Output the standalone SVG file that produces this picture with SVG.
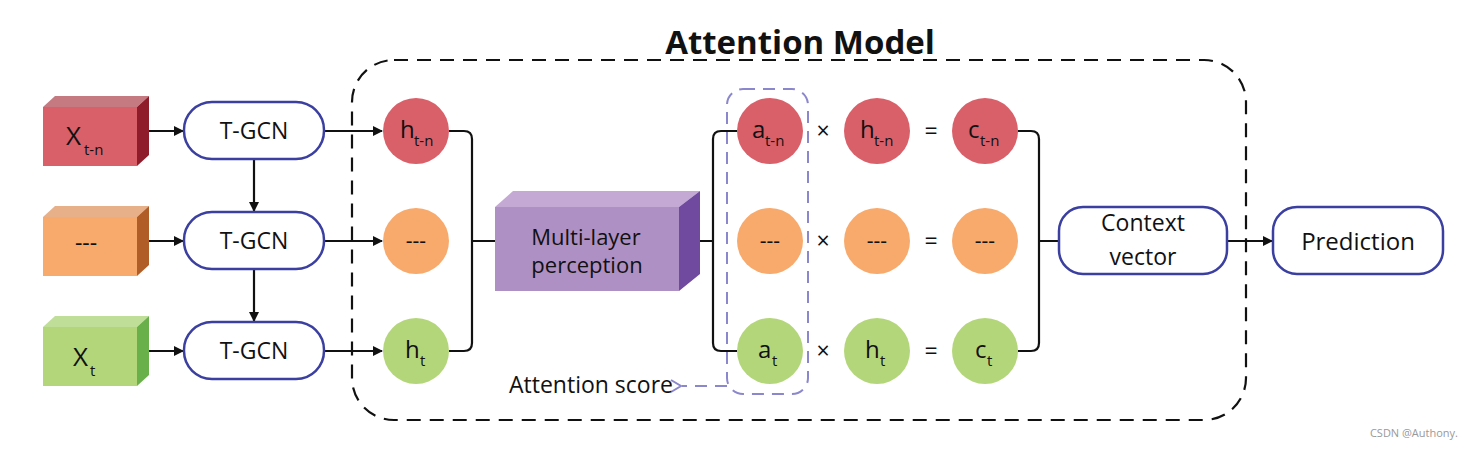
<svg xmlns="http://www.w3.org/2000/svg" width="1472" height="450" viewBox="0 0 1472 450">
<style>
text{font-family:"Open Sans","Liberation Sans",sans-serif;fill:#111}
.t{font-size:23px;text-anchor:middle}
.s{font-size:15px}
.box{fill:#fff;stroke:#3a3fa0;stroke-width:2.5}
.ln{fill:none;stroke:#111;stroke-width:2.2}
.r{fill:#d95f69}.o{fill:#f8a96c}.g{fill:#b4d67a}
</style>
<defs>
<marker id="ah" markerWidth="10" markerHeight="10" refX="9" refY="5" orient="auto" markerUnits="userSpaceOnUse"><path d="M0,0 L10,5 L0,10 z" fill="#111"/></marker>
<marker id="pa" markerWidth="14" markerHeight="14" refX="1" refY="7" orient="auto" markerUnits="userSpaceOnUse"><path d="M12,1 L2,7 L12,13" fill="none" stroke="#8b87cc" stroke-width="2"/></marker>
</defs>
<rect x="1" y="0" width="1470" height="450" fill="#fff"/>
<text x="800" y="54" style="font-size:33px;font-weight:bold;text-anchor:middle">Attention Model</text>
<rect x="352" y="60" width="894" height="360" rx="42" fill="none" stroke="#111" stroke-width="2.2" stroke-dasharray="14,9"/>
<g id="connectors">
<line class="ln" x1="145" y1="131" x2="183" y2="131" marker-end="url(#ah)"/>
<line class="ln" x1="145" y1="241" x2="183" y2="241" marker-end="url(#ah)"/>
<line class="ln" x1="145" y1="351" x2="183" y2="351" marker-end="url(#ah)"/>
<line class="ln" x1="254" y1="159" x2="254" y2="211" marker-end="url(#ah)"/>
<line class="ln" x1="254" y1="269" x2="254" y2="321" marker-end="url(#ah)"/>
<line class="ln" x1="324" y1="131" x2="382" y2="131" marker-end="url(#ah)"/>
<line class="ln" x1="324" y1="241" x2="382" y2="241" marker-end="url(#ah)"/>
<line class="ln" x1="324" y1="351" x2="382" y2="351" marker-end="url(#ah)"/>
<path class="ln" d="M449,131 H464 Q472,131 472,139 V343 Q472,351 464,351 H449 M472,241 H495"/>
<path class="ln" d="M690,241 H713 M737,131 H721 Q713,131 713,139 V343 Q713,351 721,351 H737"/>
<path class="ln" d="M1018,131 H1031 Q1039,131 1039,139 V343 Q1039,351 1031,351 H1018 M1039,241 H1059"/>
<line class="ln" x1="1227" y1="241" x2="1272" y2="241" marker-end="url(#ah)"/>
<line x1="727" y1="386" x2="682" y2="386" stroke="#8b87cc" stroke-width="2" stroke-dasharray="12,8" marker-end="url(#pa)"/>
</g>
<g id="inputs">
<g id="x-tn"><rect x="43" y="107" width="94" height="59" fill="#d95f69"/><path d="M43,107 L55,96 H149 L137,107 z" fill="#c47a80"/><path d="M137,107 L149,96 V155 L137,166 z" fill="#8e1c2a"/>
<text x="66" y="145" style="font-size:26px">X</text><text x="84" y="155" class="s">t-n</text></g>
<g id="x-mid"><rect x="43" y="217" width="94" height="59" fill="#f8a96c"/><path d="M43,217 L55,206 H149 L137,217 z" fill="#e8b089"/><path d="M137,217 L149,206 V265 L137,276 z" fill="#b05d28"/>
<text x="86" y="251" class="t">---</text></g>
<g id="x-t"><rect x="43" y="327" width="94" height="59" fill="#b4d67a"/><path d="M43,327 L55,316 H149 L137,327 z" fill="#bfdf99"/><path d="M137,327 L149,316 V375 L137,386 z" fill="#6ab04a"/>
<text x="73" y="366" style="font-size:26px">X</text><text x="90" y="376" class="s">t</text></g>
</g>
<g id="tgcn1"><rect class="box" x="184" y="102" width="140" height="57" rx="28"/><text x="254" y="139" class="t">T-GCN</text></g>
<g id="tgcn2"><rect class="box" x="184" y="212" width="140" height="57" rx="28"/><text x="254" y="249" class="t">T-GCN</text></g>
<g id="tgcn3"><rect class="box" x="184" y="322" width="140" height="57" rx="28"/><text x="254" y="359" class="t">T-GCN</text></g>
<g id="h-col">
<circle class="r" cx="416" cy="131" r="33"/><text x="400" y="138" style="font-size:24px">h</text><text x="414" y="146" class="s">t-n</text>
<circle class="o" cx="416" cy="241" r="33"/><text x="416" y="248" class="t" style="font-size:21px">---</text>
<circle class="g" cx="416" cy="351" r="33"/><text x="405" y="358" style="font-size:24px">h</text><text x="420" y="366" class="s">t</text>
</g>
<g id="mlp"><rect x="495" y="207" width="184" height="84" fill="#af90c4"/><path d="M495,207 L513,191 H700 L679,207 z" fill="#c3a9d4"/><path d="M679,207 L700,191 V274 L679,291 z" fill="#6f4a9e"/>
<text x="586" y="245" class="t" style="font-size:22px">Multi-layer</text><text x="587" y="273" class="t" style="font-size:22px">perception</text></g>
<g id="score-col">
<rect x="727" y="89" width="81" height="305" rx="16" fill="none" stroke="#8b87cc" stroke-width="2" stroke-dasharray="12,8"/>
<circle class="r" cx="770" cy="131" r="33"/><text x="752" y="138" style="font-size:24px">a</text><text x="765" y="146" class="s">t-n</text>
<circle class="o" cx="770" cy="241" r="33"/><text x="770" y="248" class="t" style="font-size:21px">---</text>
<circle class="g" cx="770" cy="351" r="33"/><text x="758" y="358" style="font-size:24px">a</text><text x="772" y="366" class="s">t</text>
<text x="673" y="393" style="font-size:23px;text-anchor:end">Attention score</text>
</g>
<g id="ops" style="font-size:22px;text-anchor:middle">
<text x="823" y="139" class="t">×</text><text x="823" y="249" class="t">×</text><text x="823" y="359" class="t">×</text>
<text x="931" y="139" class="t">=</text><text x="931" y="249" class="t">=</text><text x="931" y="359" class="t">=</text>
</g>
<g id="h2-col">
<circle class="r" cx="877" cy="131" r="33"/><text x="860" y="138" style="font-size:24px">h</text><text x="874" y="146" class="s">t-n</text>
<circle class="o" cx="877" cy="241" r="33"/><text x="877" y="248" class="t" style="font-size:21px">---</text>
<circle class="g" cx="877" cy="351" r="33"/><text x="865" y="358" style="font-size:24px">h</text><text x="880" y="366" class="s">t</text>
</g>
<g id="c-col">
<circle class="r" cx="985" cy="131" r="33"/><text x="968" y="138" style="font-size:24px">c</text><text x="980" y="146" class="s">t-n</text>
<circle class="o" cx="985" cy="241" r="33"/><text x="985" y="248" class="t" style="font-size:21px">---</text>
<circle class="g" cx="985" cy="351" r="33"/><text x="975" y="358" style="font-size:24px">c</text><text x="987" y="366" class="s">t</text>
</g>
<g id="context"><rect class="box" x="1059" y="207" width="168" height="67" rx="24"/><text x="1143" y="231" class="t">Context</text><text x="1143" y="265" class="t">vector</text></g>
<g id="prediction"><rect class="box" x="1273" y="207" width="170" height="67" rx="24"/><text x="1358" y="250" class="t" style="font-size:24px">Prediction</text></g>
<text x="1458" y="437" style="font-size:11px;fill:#999;text-anchor:end">CSDN @Authony.</text>
</svg>
